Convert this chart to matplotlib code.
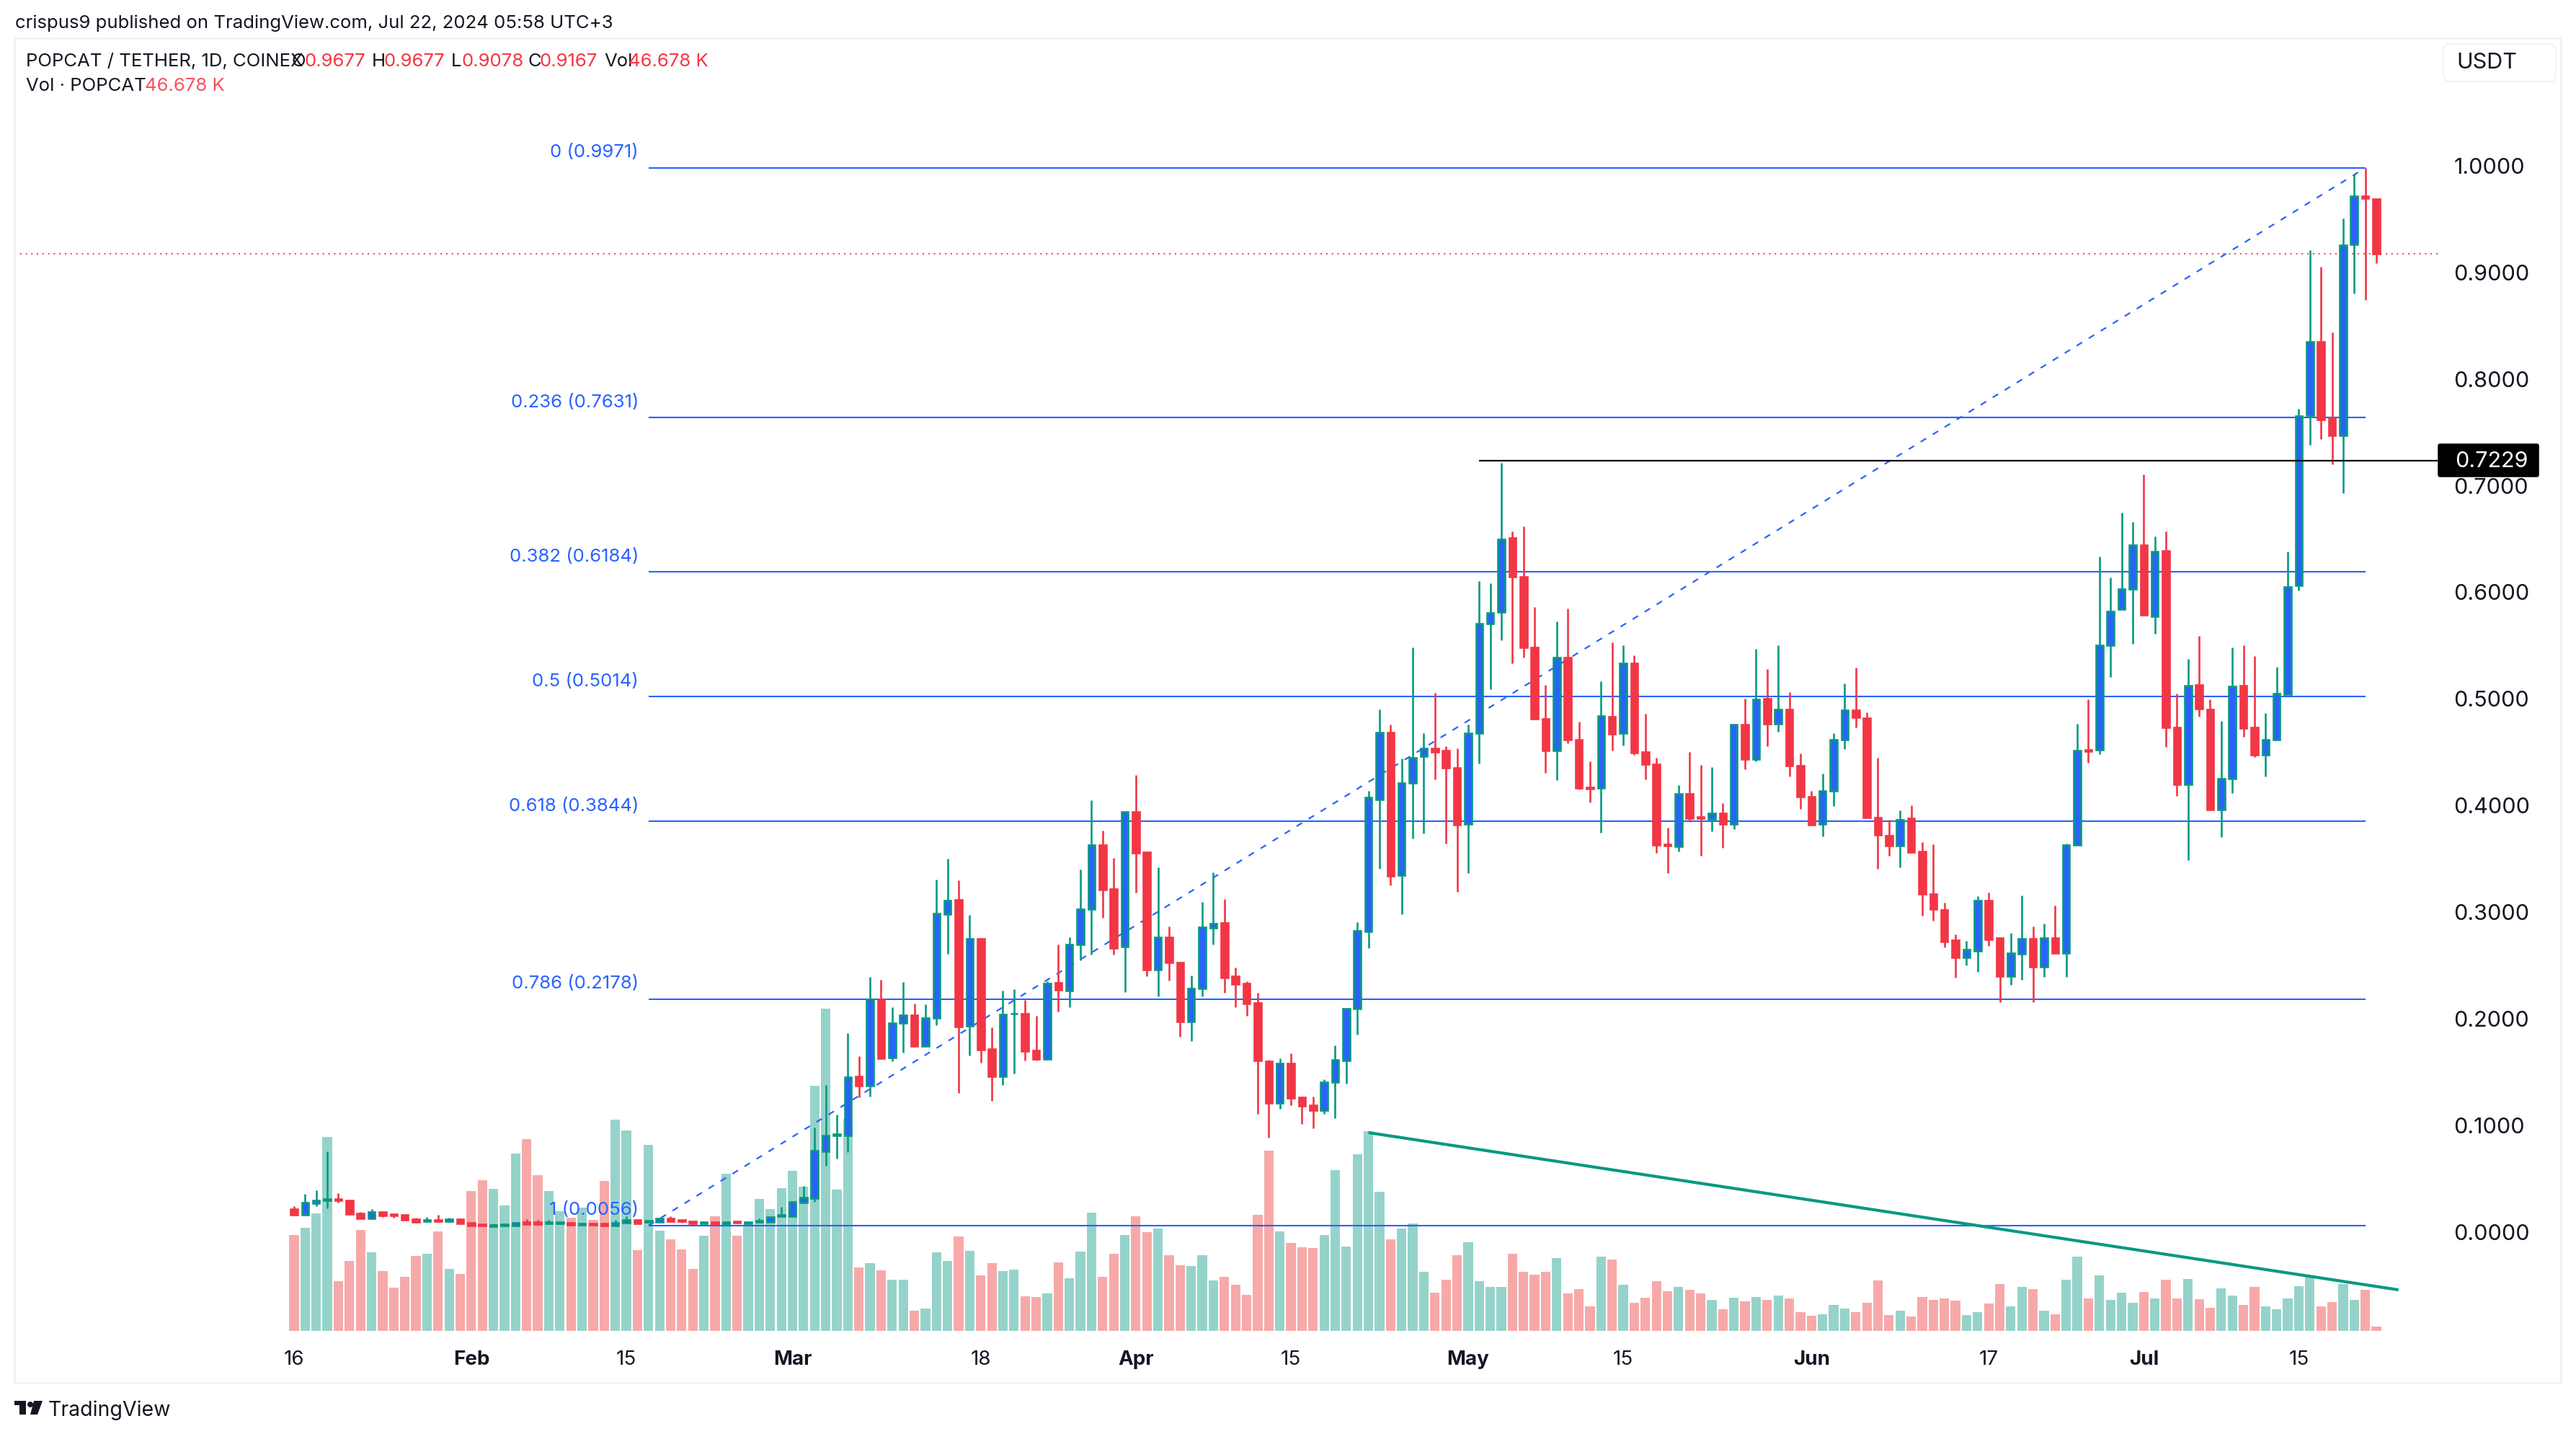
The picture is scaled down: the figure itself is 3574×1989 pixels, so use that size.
"""
POPCAT / TETHER daily candles with volume and fib levels
"""
import matplotlib
matplotlib.use('Agg')
import matplotlib.pyplot as plt
from matplotlib.patches import FancyBboxPatch, Polygon, Circle, Rectangle

TEXT_COLOR = '#131722'
FIB_COLOR = '#2962ff'
UP_FILL = '#2962ff'
UP_EDGE = '#089981'
DOWN_COLOR = '#f23645'
VOL_UP = '#95d3ca'
VOL_DOWN = '#f7a9a9'
FRAME_COLOR = '#f0f3fa'

W, H = 3574, 1990
plt.rcParams['font.family'] = ['Inter', 'DejaVu Sans']

opens = [
    .0210, .0158, .0264, .0293, .0305, .0291, .0169, .0122, .0183, .0163, .0156, .0115, .0095, .0109, .0095, .0115,
    .0080, .0071, .0049, .0053, .0055, .0089, .0089, .0075, .0075, .0085, .0062, .0075, .0073, .0055, .0082, .0109,
    .0089, .0089, .0123, .0109, .0094, .0075, .0089, .0069, .0096, .0075, .0089, .0091, .0143, .0143, .0272, .0314,
    .0754, .0902, .0902, .1454, .1368, .2175, .1627, .1952, .2026, .1741, .1999, .2977, .3109, .1926, .2747, .1710,
    .1455, .2039, .2041, .1696, .1618, .2332, .2260, .2694, .3025, .3627, .3210, .2674, .3938, .3557, .2456, .2756,
    .2520, .1971, .2277, .2848, .2893, .2394, .2327, .2142, .1598, .1206, .1579, .1256, .1183, .1136, .1402, .1604,
    .2089, .2814, .4053, .4675, .3341, .4202, .4455, .4531, .4510, .4348, .3817, .4669, .5697, .5804, .6500, .6138,
    .5479, .4810, .4507, .5379, .4614, .4166, .4159, .4824, .4669, .5324, .4497, .4383, .3632, .3607, .4107, .3886,
    .3869, .3924, .3817, .4755, .4428, .4993, .4762, .4897, .4365, .4079, .3817, .4134, .4614, .4890, .4814, .3883,
    .3710, .3614, .3876, .3562, .3165, .3016, .2730, .2571, .2632, .3104, .2751, .2395, .2606, .2746, .2483, .2751,
    .2613, .3621, .4517, .4513, .5495, .5831, .6021, .6438, .5765, .6382, .4726, .4195, .5125, .4897, .3958, .4243,
    .5120, .4726, .4470, .4608, .5039, .6054, .7652, .8340, .7628, .7462, .9255, .9705, .9677,
]
highs = [
    .0237, .0352, .0386, .0751, .0359, .0298, .0181, .0210, .0183, .0163, .0156, .0129, .0136, .0156, .0129, .0122,
    .0080, .0076, .0078, .0069, .0089, .0116, .0109, .0109, .0089, .0089, .0085, .0075, .0085, .0109, .0143, .0116,
    .0103, .0130, .0143, .0109, .0094, .0089, .0089, .0096, .0096, .0089, .0123, .0136, .0231, .0276, .0427, .0975,
    .1373, .1096, .1859, .1643, .2386, .2359, .2103, .2339, .2136, .2131, .3299, .3495, .3291, .2971, .2747, .1912,
    .2257, .2271, .2173, .2019, .2349, .2691, .2761, .3392, .4042, .3756, .3501, .3938, .4280, .3557, .3414, .2859,
    .2520, .2397, .3089, .3364, .3120, .2475, .2346, .2237, .1609, .1626, .1671, .1262, .1262, .1430, .1747, .2089,
    .2899, .4134, .4893, .4754, .4434, .5479, .4669, .5048, .4548, .4531, .4752, .6097, .6076, .7207, .6566, .6611,
    .5855, .5124, .5721, .5842, .4779, .4410, .5159, .5524, .5497, .5400, .4855, .4441, .3786, .4186, .4497, .4372,
    .4355, .4014, .4755, .4997, .5462, .5273, .5497, .5055, .4479, .4131, .4290, .4669, .5135, .5290, .4869, .4441,
    .3862, .3945, .3993, .3648, .3631, .3083, .2786, .2725, .3144, .3178, .2751, .2796, .3152, .2860, .2886, .3057,
    .3638, .4759, .4989, .6329, .6130, .6742, .6652, .7097, .6519, .6566, .5044, .5367, .5585, .4987, .4788, .5476,
    .5495, .5395, .4859, .5295, .6377, .7714, .9198, .9046, .8430, .9497, .9919, .9971, .9677,
]
lows = [
    .0156, .0158, .0239, .0219, .0271, .0163, .0122, .0122, .0136, .0129, .0109, .0088, .0088, .0088, .0088, .0075,
    .0055, .0055, .0049, .0046, .0055, .0062, .0064, .0075, .0069, .0062, .0062, .0062, .0055, .0055, .0075, .0075,
    .0089, .0089, .0096, .0082, .0075, .0075, .0062, .0069, .0082, .0069, .0089, .0091, .0143, .0143, .0265, .0281,
    .0616, .0684, .0744, .1260, .1267, .1625, .1598, .1679, .1740, .1741, .1935, .2601, .1298, .1651, .1581, .1225,
    .1374, .1480, .1604, .1604, .1618, .2061, .2103, .2545, .2599, .2943, .2599, .2248, .3176, .2394, .2204, .2352,
    .1828, .1786, .2204, .2691, .2237, .2103, .2019, .1105, .0881, .1150, .1183, .1010, .0970, .1105, .1063, .1388,
    .1848, .2660, .3400, .3248, .2977, .3686, .3731, .4238, .3634, .3186, .3359, .4386, .5083, .5542, .5324, .5379,
    .4810, .4297, .4235, .4579, .4141, .4021, .3738, .4510, .4555, .4469, .4238, .3548, .3359, .3565, .3841, .3521,
    .3755, .3600, .3772, .4331, .4410, .4548, .4686, .4265, .3962, .3807, .3703, .3986, .4521, .4728, .3883, .3403,
    .3524, .3417, .3548, .2962, .2917, .2663, .2381, .2495, .2436, .2677, .2151, .2315, .2362, .2151, .2386, .2606,
    .2386, .3621, .4394, .4475, .5201, .5831, .5509, .5779, .5604, .4542, .4082, .3479, .4826, .3958, .3698, .4110,
    .4636, .4447, .4266, .4608, .5039, .6007, .7372, .7429, .7192, .6922, .8795, .8733, .9078,
]
closes = [
    .0156, .0271, .0291, .0305, .0293, .0163, .0122, .0183, .0149, .0149, .0109, .0088, .0109, .0095, .0115, .0075,
    .0055, .0055, .0064, .0069, .0085, .0071, .0071, .0089, .0089, .0062, .0075, .0062, .0055, .0085, .0109, .0075,
    .0103, .0123, .0096, .0096, .0075, .0089, .0069, .0089, .0082, .0089, .0103, .0136, .0157, .0276, .0317, .0756,
    .0898, .0912, .1447, .1368, .2179, .1625, .1952, .2026, .1740, .1999, .2980, .3106, .1920, .2747, .1705, .1452,
    .2038, .2044, .1691, .1615, .2327, .2265, .2694, .3025, .3627, .3207, .2660, .3938, .3552, .2453, .2756, .2520,
    .1971, .2282, .2851, .2885, .2383, .2318, .2136, .1604, .1206, .1579, .1253, .1178, .1133, .1402, .1607, .2089,
    .2817, .4067, .4675, .3330, .4202, .4445, .4531, .4497, .4348, .3814, .4669, .5697, .5800, .6493, .6135, .5479,
    .4810, .4507, .5379, .4614, .4159, .4152, .4831, .4662, .5324, .4486, .4383, .3627, .3620, .4107, .3876, .3874,
    .3924, .3817, .4755, .4428, .4990, .4759, .4897, .4365, .4079, .3814, .4134, .4614, .4890, .4817, .3883, .3721,
    .3617, .3862, .3555, .3162, .3021, .2720, .2566, .2642, .3102, .2741, .2393, .2613, .2744, .2483, .2749, .2613,
    .3621, .4512, .4505, .5499, .5817, .6021, .6438, .5779, .6377, .4726, .4191, .5115, .4902, .3958, .4248, .5111,
    .4717, .4470, .4613, .5044, .6045, .7647, .8344, .7609, .7462, .9250, .9705, .9690, .9167,
]
# relative bar heights, the last one is 46.678K
volume = [
    399, 429, 489, 807, 207, 291, 420, 327, 249, 180, 225, 312, 321, 414, 258, 237,
    582, 627, 591, 522, 738, 798, 648, 582, 498, 471, 513, 462, 624, 879, 834, 336,
    774, 417, 381, 339, 258, 396, 477, 654, 396, 441, 549, 507, 594, 666, 600, 1020,
    1341, 588, 882, 264, 282, 252, 213, 213, 84, 93, 327, 291, 393, 333, 231, 282,
    249, 255, 144, 141, 156, 285, 219, 330, 492, 225, 321, 399, 477, 411, 426, 315,
    273, 270, 315, 210, 225, 192, 150, 483, 750, 414, 366, 348, 345, 399, 669, 351,
    735, 831, 579, 381, 426, 447, 246, 159, 213, 315, 369, 207, 183, 183, 321, 246,
    234, 246, 303, 156, 174, 102, 309, 297, 192, 117, 138, 207, 165, 183, 171, 156,
    129, 90, 138, 123, 141, 129, 147, 135, 78, 63, 69, 108, 93, 78, 117, 210,
    66, 84, 60, 141, 129, 135, 126, 66, 78, 114, 195, 102, 183, 174, 84, 69,
    213, 309, 135, 231, 129, 159, 117, 162, 135, 213, 135, 216, 132, 96, 177, 147,
    108, 183, 102, 90, 135, 186, 225, 102, 120, 195, 129, 171, 18,
]

fib_labels = ['0', '0.236', '0.382', '0.5', '0.618', '0.786', '1']
fib_prices = [0.9971, 0.7631, 0.6184, 0.5014, 0.3844, 0.2178, 0.0056]
price_ticks = [1.0, 0.9, 0.8, 0.7, 0.6, 0.5, 0.4, 0.3, 0.2, 0.1, 0.0]
date_pos = [0, 16, 30, 45, 62, 76, 90, 106, 120, 137, 153, 167, 181]
date_labels = ['16', 'Feb', '15', 'Mar', '18', 'Apr', '15', 'May', '15', 'Jun', '17', 'Jul', '15']
month_labels = {'Feb', 'Mar', 'Apr', 'May', 'Jun', 'Jul'}

# the two drawn trend lines and levels, as (bar, price)
fib_start, fib_end = 32, 187
trend_bars = [97, 190]
trend_prices = [0.0927, -0.0547]
level_price = 0.7229
level_start, level_end = 107, 193.5
last_price = 0.9167


def bar_x(px):
    return (px - 408) / 15.367


def price_y(px):
    return 0.9971 - (px - 234) / 1479.4


def fx(px):
    return px / W


def fy(px):
    return 1 - px / H


fig = plt.figure(figsize=(W / 100, H / 100), dpi=100, facecolor='white')

FRAME_L, FRAME_R, FRAME_T, FRAME_B = 20, 3553, 54, 1919
ax = fig.add_axes([fx(FRAME_L), fy(FRAME_B), (FRAME_R - FRAME_L) / W, (FRAME_B - FRAME_T) / H])
ax.set_xlim(bar_x(FRAME_L), bar_x(FRAME_R))
ax.set_ylim(price_y(FRAME_B), price_y(FRAME_T))

# Volume on its own scale, base line at y=1847 and one unit = 1/3 px
ax_vol = ax.twinx()
ax_vol.set_ylim(-(FRAME_B - 1847) * 3, (1847 - FRAME_T) * 3)
ax_vol.axis('off')
ax.set_zorder(ax_vol.get_zorder() + 1)
ax.patch.set_visible(False)

xs = list(range(len(opens)))
is_up = [c >= o for o, c in zip(opens, closes)]
ax_vol.bar(xs, volume, width=0.86, color=[VOL_UP if u else VOL_DOWN for u in is_up], linewidth=0)

# Fib levels
for lab, p in zip(fib_labels, fib_prices):
    ax.hlines(p, fib_start, fib_end, color=FIB_COLOR, linewidth=1.5, zorder=2)
    ax.text(bar_x(886), p + 22 / 1479.4, f'{lab} ({p:.4f})', color=FIB_COLOR, fontsize=18.5,
            ha='right', va='center', zorder=6)

ax.plot([fib_start, fib_end], [fib_prices[-1], fib_prices[0]], color=FIB_COLOR, linewidth=1.6,
        linestyle=(0, (4, 4.8)), zorder=2.5)

# Candles
wick_colors = [UP_EDGE if u else DOWN_COLOR for u in is_up]
ax.vlines(xs, lows, highs, colors=wick_colors, linewidth=1.9, zorder=3)
body_bottom = [min(o, c) for o, c in zip(opens, closes)]
body_height = [abs(c - o) for o, c in zip(opens, closes)]
ax.bar(xs, body_height, bottom=body_bottom, width=0.62,
       color=[UP_FILL if u else DOWN_COLOR for u in is_up],
       edgecolor=wick_colors, linewidth=1.9, zorder=4)

# Levels drawn by hand on the chart
ax.hlines(level_price, level_start, level_end, color='black', linewidth=1.6, zorder=5)
ax.hlines(last_price, bar_x(FRAME_L), level_end, color=DOWN_COLOR, linewidth=1.4,
          linestyle=(0, (1, 3)), zorder=1.5)
ax.plot(trend_bars, trend_prices, color=UP_EDGE, linewidth=3.0, solid_capstyle='butt', zorder=5)

# Axes
ax.set_yticks(price_ticks)
ax.set_yticklabels([f'{t:.4f}' for t in price_ticks])
ax.yaxis.tick_right()
ax.tick_params(axis='y', length=0, pad=-107, labelsize=22, labelcolor=TEXT_COLOR)
ax.set_xticks(date_pos)
ax.set_xticklabels(date_labels)
ax.tick_params(axis='x', length=0, pad=-33, labelsize=20, labelcolor=TEXT_COLOR)
for t in ax.get_xticklabels():
    if t.get_text() in month_labels:
        t.set_fontweight('bold')
for spine in ax.spines.values():
    spine.set_color(FRAME_COLOR)
    spine.set_linewidth(2)
for spine in ax_vol.spines.values():
    spine.set_visible(False)

# Price tag for the level
tag = FancyBboxPatch((3386, 620), 133, 39, boxstyle='round,pad=0,rounding_size=4', transform=None,
                     facecolor='black', edgecolor='black', linewidth=6, zorder=8)
tag.set_transform(fig.transFigure)
tag = FancyBboxPatch((fx(3385), fy(660)), 135 / W, 41 / H, boxstyle='square,pad=0',
                     transform=fig.transFigure, facecolor='black', edgecolor='black',
                     linewidth=4, joinstyle='round', zorder=8)
fig.add_artist(tag)
fig.text(fx(3457), fy(640), f'{level_price:.4f}', color='white', fontsize=22, ha='center', va='center', zorder=9)

# USDT box
usdt = FancyBboxPatch((3390, H - 114), 156, 52, boxstyle='round,pad=0,rounding_size=9',
                      facecolor='white', edgecolor=FRAME_COLOR, linewidth=1.5,
                      transform=fig.dpi_scale_trans + plt.matplotlib.transforms.Affine2D(),
                      zorder=8)
usdt.set_transform(matplotlib.transforms.IdentityTransform())
fig.add_artist(usdt)
fig.text(fx(3450), fy(87), 'USDT', color=TEXT_COLOR, fontsize=22, ha='center', va='center', zorder=9)

# Header
fig.text(fx(21), fy(32), 'crispus9 published on TradingView.com, Jul 22, 2024 05:58 UTC+3',
         color=TEXT_COLOR, fontsize=18.5, va='center')
header = [
    (36, 'POPCAT / TETHER, 1D, COINEX', TEXT_COLOR),
    (405, 'O', TEXT_COLOR), (423, '0.9677', DOWN_COLOR),
    (516, 'H', TEXT_COLOR), (533, '0.9677', DOWN_COLOR),
    (626, 'L', TEXT_COLOR), (640, '0.9078', DOWN_COLOR),
    (732, 'C', TEXT_COLOR), (749, '0.9167', DOWN_COLOR),
    (838, 'Vol', TEXT_COLOR), (872, '46.678 K', DOWN_COLOR),
]
for x, s, c in header:
    fig.text(fx(x), fy(86), s, color=c, fontsize=18.5, va='center')
fig.text(fx(36), fy(120), 'Vol · POPCAT', color=TEXT_COLOR, fontsize=18.5, va='center')
fig.text(fx(201), fy(120), '46.678 K', color='#f7525f', fontsize=18.5, va='center')

# Footer logo and name
logo = [
    Rectangle((20, H - 1950), 16, 6),
    Rectangle((27, H - 1963), 9, 13),
    Circle((42, H - 1949), 4),
    Polygon([(47, H - 1944), (59, H - 1944), (52, H - 1963), (42, H - 1963)]),
]
for p in logo:
    p.set_facecolor(TEXT_COLOR)
    p.set_edgecolor('none')
    p.set_transform(matplotlib.transforms.IdentityTransform())
    fig.add_artist(p)
fig.text(fx(67), fy(1956), 'TradingView', color=TEXT_COLOR, fontsize=20.5, va='center')

fig.savefig('out.png', dpi=100, facecolor='white')
plt.close(fig)
